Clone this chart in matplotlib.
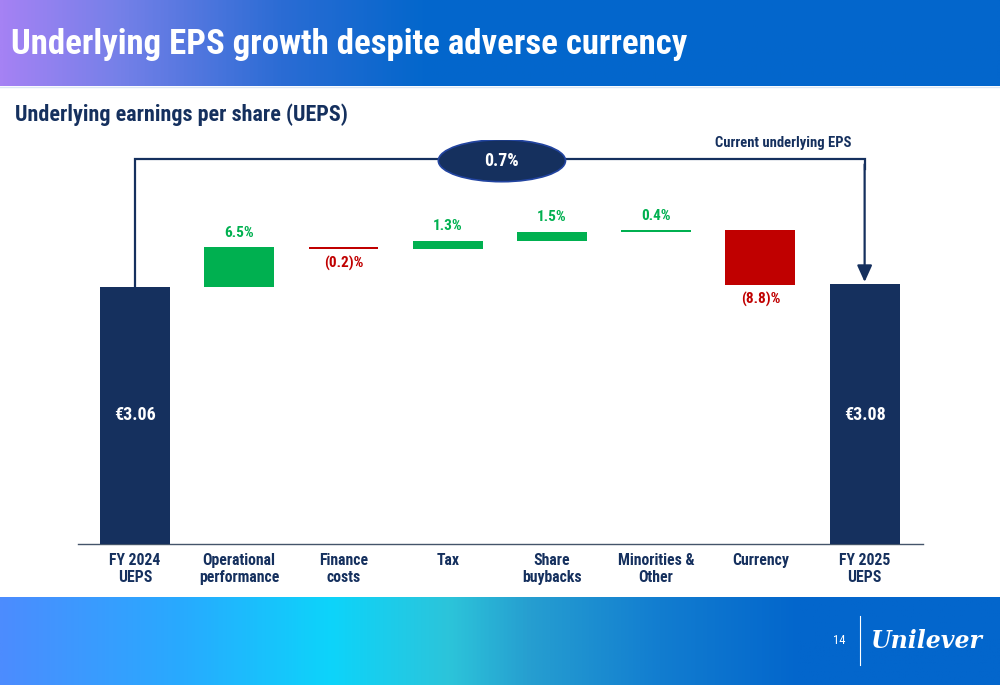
import numpy as np
import matplotlib
matplotlib.use('Agg')
import matplotlib.pyplot as plt
from matplotlib.colors import LinearSegmentedColormap
from matplotlib.patches import Ellipse

plt.rcParams['font.family'] = ['Roboto Condensed', 'DejaVu Sans']
plt.rcParams['font.weight'] = 'bold'

# 数据（柱高按图中比例读取，图上的柱子并非严格按百分比缩放）
categories = ['FY 2024\nUEPS', 'Operational\nperformance', 'Finance\ncosts', 'Tax',
              'Share\nbuybacks', 'Minorities &\nOther', 'Currency', 'FY 2025\nUEPS']
start_height = 257.5
step_heights = [39.2, -1.3, 8.0, 8.6, 1.8, -54.5]
end_height = 260.5
step_labels = ['6.5%', '(0.2)%', '1.3%', '1.5%', '0.4%', '(8.8)%']
total_labels = ['€3.06', '€3.08']
growth_label = '0.7%'

NAVY = '#15305E'
GREEN = '#00B050'
RED = '#C00000'

fig = plt.figure(figsize=(10, 6.85), dpi=100)

# 背景：顶部和底部渐变条
bg = fig.add_axes([0, 0, 1, 1])
bg.set_xlim(0, 1000)
bg.set_ylim(685, 0)
bg.axis('off')

head_cmap = LinearSegmentedColormap.from_list('head', [
    (0.0, '#A582F4'), (0.12, '#7480E8'), (0.28, '#2B6CD4'),
    (0.42, '#0467CC'), (1.0, '#0366CC')])
foot_cmap = LinearSegmentedColormap.from_list('foot', [
    (0.0, '#4C8CFE'), (0.18, '#28AAFF'), (0.33, '#0DD4FA'),
    (0.45, '#2CC4DA'), (0.53, '#269ED0'), (0.66, '#127DD0'),
    (0.8, '#0366CC'), (1.0, '#0366CC')])
grad = np.linspace(0, 1, 512).reshape(1, -1)
bg.imshow(grad, cmap=head_cmap, extent=[0, 1000, 86, 0], aspect='auto')
bg.imshow(grad, cmap=foot_cmap, extent=[0, 1000, 685, 597], aspect='auto')
bg.axhline(86.5, color='#DCE8F6', lw=1)
bg.set_xlim(0, 1000)
bg.set_ylim(685, 0)

bg.text(11, 44, 'Underlying EPS growth despite adverse currency', color='white',
        fontsize=25, fontweight='bold', va='center', ha='left')
bg.text(15, 115, 'Underlying earnings per share (UEPS)', color=NAVY,
        fontsize=15.8, fontweight='bold', va='center', ha='left')

bg.text(845, 641, '14', color='white', fontsize=9, fontweight='normal',
        va='center', ha='right')
bg.plot([860, 860], [616, 665], color='white', lw=0.8)
bg.text(870, 641, 'Unilever', color='white', fontsize=17, style='italic',
        fontweight='bold', family=['DejaVu Serif'], va='center', ha='left')

# 主图：瀑布图
ax = fig.add_axes([0.078, (685 - 544) / 685, 0.845, 404 / 685])
x = np.arange(len(categories))

levels = np.concatenate([[start_height], start_height + np.cumsum(step_heights)])
step_bottoms = levels[:-1]
step_colors = [GREEN if h > 0 else RED for h in step_heights]

ax.bar([0, 7], [start_height, end_height], width=0.67, color=NAVY, zorder=3)
ax.bar(x[1:7], step_heights, bottom=step_bottoms, width=0.67,
       color=step_colors, zorder=3)

for i, (h, b, lab, c) in enumerate(zip(step_heights, step_bottoms, step_labels, step_colors)):
    if h > 0:
        ax.annotate(lab, xy=(i + 1, b + h), xytext=(0, 10.5), textcoords='offset points',
                    ha='center', va='center', color=c, fontsize=11, fontweight='bold')
    else:
        ax.annotate(lab, xy=(i + 1, b + h), xytext=(0, -11), textcoords='offset points',
                    ha='center', va='center', color=c, fontsize=11, fontweight='bold')

for xi, h, lab in zip([0, 7], [start_height, end_height], total_labels):
    ax.text(xi, 129, lab, color='white', fontsize=13, fontweight='bold',
            ha='center', va='center', zorder=4)

# 连接线和箭头
conn_y = 384.7
ax.plot([0, 0, 7, 7], [start_height, conn_y, conn_y, conn_y - 10], color=NAVY,
        lw=1.6, zorder=2, solid_joinstyle='miter')
ax.annotate('', xy=(7, end_height + 1.5), xytext=(7, conn_y - 5),
            arrowprops=dict(arrowstyle='-|>,head_length=1.0,head_width=0.45',
                            color=NAVY, lw=1.6, shrinkA=0, shrinkB=0), zorder=2)
ell = Ellipse((3.52, 383.3), width=1.22, height=42, facecolor=NAVY,
              edgecolor='#2244A0', lw=1.2, zorder=5)
ax.add_patch(ell)
ax.text(3.52, 382.5, growth_label, color='white', fontsize=12.8, fontweight='bold',
        ha='center', va='center', zorder=6)
ax.text(6.22, 401, 'Current underlying EPS', color=NAVY, fontsize=10.5,
        fontweight='bold', ha='center', va='center', clip_on=False)

ax.set_xlim(-0.547, 7.56)
ax.set_ylim(0, 404)
ax.set_xticks(x)
ax.set_xticklabels(categories, color=NAVY, fontsize=11.3, fontweight='bold')
ax.tick_params(axis='x', length=0, pad=6.5)
ax.set_yticks([])
for s in ['top', 'right', 'left']:
    ax.spines[s].set_visible(False)
ax.spines['bottom'].set_color('#44546A')
ax.spines['bottom'].set_linewidth(1)
ax.patch.set_alpha(0)

fig.savefig('out.png', dpi=100)
